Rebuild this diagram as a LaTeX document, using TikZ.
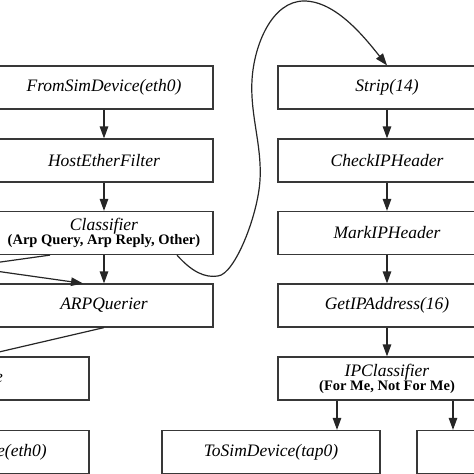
\documentclass[tikz,border=0pt]{standalone}
\usepackage{fontspec}
\setmainfont{Liberation Serif}
\usetikzlibrary{arrows.meta}
\newcommand\portlbl[1]{{\fontsize{14.5}{14}\selectfont\bfseries\upshape #1}}

\begin{document}
\begin{tikzpicture}[x=1pt,y=-1pt,>={Triangle[length=12pt,width=8.5pt]},line width=1.2pt,
  elem/.style={draw=black!78,minimum width=218pt,minimum height=43pt,inner sep=0pt,
    font=\fontsize{17.5}{14}\selectfont\itshape,align=center},
  link/.style={->,draw=black!85}]
\useasboundingbox (0,0) rectangle (474,474);
\clip (0,0) rectangle (474,474);
\node[elem] (fsd) at (104,87.5) {FromSimDevice(eth0)};
\node[elem] (hef) at (104,160.5) {HostEtherFilter};
\node[elem] (cls) at (104,233) {Classifier\\\portlbl{(Arp Query, Arp Reply, Other)}};
\node[elem] (arpq) at (104,305.5) {ARPQuerier};
\node[elem] (queue) at (-20,378.5) {Queue};
\node[elem] (tse) at (-20,452) {ToSimDevice(eth0)};
\node[elem] (strip) at (387,87.5) {Strip(14)};
\node[elem] (chk) at (387,160.5) {CheckIPHeader};
\node[elem] (mark) at (387,233) {MarkIPHeader};
\node[elem] (gip) at (387,305.5) {GetIPAddress(16)};
\node[elem] (ipc) at (387,378.5) {IPClassifier\\\portlbl{(For Me, Not For Me)}};
\node[elem] (tst) at (271,452) {ToSimDevice(tap0)};
\node[elem] (other) at (526,452) {};
\coordinate (arpr) at (-157,284);
\coordinate (src) at (-118,255);
\draw[link] (fsd) -- (hef);
\draw[link] (hef) -- (cls);
\draw[link] (cls) -- (arpq);
\draw[link] ([xshift=-54pt]cls.south) -- (arpr);
\draw[link] (src) -- ([xshift=-21pt]arpq.north);
\draw[link] (arpq.south) -- (queue.north);
\draw[link] (queue) -- (tse);
\draw[link] ([xshift=73pt]cls.south) .. controls (192,272) and (205,278) .. (218,276)
  .. controls (235,274) and (258,215) .. (260,180)
  .. controls (262,145) and (250,115) .. (252,80)
  .. controls (254,45) and (272,1) .. (304,1)
  .. controls (336,1) and (365,38) .. (strip.north);
\draw[link] (strip) -- (chk);
\draw[link] (chk) -- (mark);
\draw[link] (mark) -- (gip);
\draw[link] (gip) -- (ipc);
\draw[link] ([xshift=-50pt]ipc.south) -- ([xshift=66pt]tst.north);
\draw[link] ([xshift=66pt]ipc.south) -- ([xshift=-73pt]other.north);
\end{tikzpicture}
\end{document}
